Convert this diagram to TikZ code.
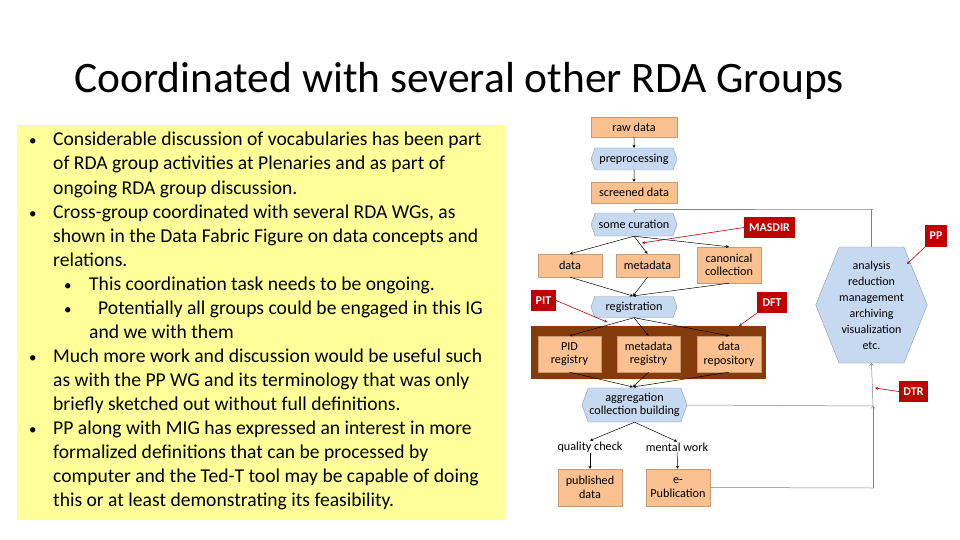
\documentclass[tikz,border=0pt]{standalone}
\usepackage{fontspec}
\setmainfont{Carlito}
\usetikzlibrary{shapes.symbols,arrows.meta}
\definecolor{orf}{HTML}{FAC090}
\definecolor{blf}{HTML}{C6D9F1}
\definecolor{brn}{HTML}{843C0C}
\definecolor{rd}{HTML}{C00000}
\definecolor{yl}{HTML}{FFFF99}
\begin{document}
\begin{tikzpicture}[x=1pt,y=-1pt,
  box/.style={fill=orf,draw=orf!80!black,line width=0.4pt,inner sep=0pt,font=\fontsize{12.2}{13.5}\selectfont,align=center},
  hex/.style={signal,signal to=east and west,signal pointer angle=140,fill=blf,draw=blf!70!black,line width=0.4pt,inner sep=0pt,font=\fontsize{12.2}{13.5}\selectfont,align=center},
  tag/.style={fill=rd,text=white,font=\bfseries\fontsize{12}{13}\selectfont,inner sep=0pt},
  ar/.style={-{Stealth[length=3pt,width=3pt]},line width=0.5pt},
  rar/.style={-{Stealth[length=3pt,width=3pt]},draw=rd,line width=0.6pt},
  gl/.style={draw=gray,line width=0.5pt},
  bt/.style={anchor=base west,font=\fontsize{19.6}{22}\selectfont,inner sep=0pt},
  bu/.style={anchor=base west,font=\fontsize{15}{18}\selectfont,inner sep=0pt}]
\useasboundingbox (0,0) rectangle (960,540);
\fill[white] (0,0) rectangle (960,540);
\node[font=\fontsize{43.5}{50}\selectfont,anchor=base,inner sep=0pt] (title) at (459,93) {Coordinated with several other RDA Groups};
\fill[yl] (17,125) rectangle (505,520);
\node[bu] (b1) at (29,146) {•};
\node[bt] (l1) at (53,146) {Considerable discussion of vocabularies has been part};
\node[bt] (l2) at (53,170) {of RDA group activities at Plenaries and as part of};
\node[bt] (l3) at (53,194) {ongoing RDA group discussion.};
\node[bu] (b2) at (29,218) {•};
\node[bt] (l4) at (53,218) {Cross-group coordinated with several RDA WGs, as};
\node[bt] (l5) at (53,242) {shown in the Data Fabric Figure on data concepts and};
\node[bt] (l6) at (53,266) {relations.};
\node[bu] (b3) at (64,290) {•};
\node[bt] (l7) at (89,290) {This coordination task needs to be ongoing.};
\node[bu] (b4) at (64,314) {•};
\node[bt] (l8) at (98,314) {Potentially all groups could be engaged in this IG};
\node[bt] (l9) at (89,338) {and we with them};
\node[bu] (b5) at (29,362) {•};
\node[bt] (l10) at (53,362) {Much more work and discussion would be useful such};
\node[bt] (l11) at (53,386) {as with the PP WG and its terminology that was only};
\node[bt] (l12) at (53,410) {briefly sketched out without full definitions.};
\node[bu] (b6) at (29,434) {•};
\node[bt] (l13) at (53,434) {PP along with MIG has expressed an interest in more};
\node[bt] (l14) at (53,458) {formalized definitions that can be processed by};
\node[bt] (l15) at (53,482) {computer and the Ted-T tool may be capable of doing};
\node[bt] (l16) at (53,506) {this or at least demonstrating its feasibility.};
% diagram
\fill[brn] (531,326) rectangle (766,379);
\node[box,minimum width=86,minimum height=20] (raw) at (634,127) {raw data};
\node[hex,minimum width=86,minimum height=22] (pre) at (634,159) {preprocessing};
\node[box,minimum width=86,minimum height=21] (scr) at (634,192.5) {screened data};
\node[hex,minimum width=86,minimum height=23] (cur) at (634,224.5) {some curation};
\node[box,minimum width=64,minimum height=23] (dat) at (570,265.5) {data};
\node[box,minimum width=63,minimum height=23] (met) at (647.5,265.5) {metadata};
\node[box,minimum width=64,minimum height=36] (can) at (729,265) {canonical\\collection};
\node[hex,minimum width=86,minimum height=21] (reg) at (634,307) {registration};
\node[box,minimum width=63,minimum height=36] (pid) at (569.5,354) {PID\\registry};
\node[box,minimum width=63,minimum height=36] (mreg) at (648.5,354) {metadata\\registry};
\node[box,minimum width=64,minimum height=36] (drep) at (729,354) {data\\repository};
\node[hex,minimum width=105,minimum height=34] (agg) at (634.5,405) {aggregation\\collection building};
\node[font=\fontsize{12.2}{13.5}\selectfont,inner sep=1pt] (qc) at (590,447) {quality check};
\node[font=\fontsize{12.2}{13.5}\selectfont,inner sep=1pt] (mw) at (677,447) {mental work};
\node[box,minimum width=64,minimum height=37] (pub) at (590,487.5) {published\\data};
\node[box,minimum width=64,minimum height=37] (epub) at (678,487.5) {e-\\Publication};
\node[hex,signal pointer angle=136,minimum width=105,minimum height=116,font=\fontsize{12}{16}\selectfont] (ana) at (871.5,305) {analysis\\reduction\\management\\archiving\\visualization\\etc.};
\node[tag,minimum width=51,minimum height=21] (masdir) at (769.5,227.5) {MASDIR};
\node[tag,minimum width=22,minimum height=22] (pp) at (936,236) {PP};
\node[tag,minimum width=25,minimum height=21] (pit) at (543.5,300.5) {PIT};
\node[tag,minimum width=30,minimum height=21] (dft) at (772,302.5) {DFT};
\node[tag,minimum width=29,minimum height=21] (dtr) at (913.5,391.5) {DTR};
\coordinate (c1) at (873,209);
\coordinate (c2) at (635,209);
\coordinate (c3) at (873,406);
\coordinate (c4) at (873,488);
\coordinate (jr) at (633,296);
\coordinate (ja) at (633,387);
\coordinate (qa) at (875,388);
\coordinate (ma) at (642,243);
\coordinate (pa) at (607,322);
\coordinate (da) at (739,326);
\coordinate (ppa) at (907,264);
% connectors
\draw[ar] (raw) -- (pre);
\draw[ar] (pre) -- (scr);
\draw[gl] (ana.north) |- (c1) -- (c2);
\draw[ar,gray] (c2) -- (cur.north);
\draw[ar] (cur.south) -- (dat.north);
\draw[ar] (cur.south) -- (met.north);
\draw[ar] (cur.south) -- (can.north);
\draw[ar] (dat.south) -- (jr);
\draw[ar] (met.south) -- (jr);
\draw[ar] (can.south) -- (jr);
\draw[ar] (reg.south) -- (pid.north);
\draw[ar] (reg.south) -- (mreg.north);
\draw[ar] (reg.south) -- (drep.north);
\draw[ar] (pid.south) -- (ja);
\draw[ar] (mreg.south) -- (ja);
\draw[ar] (drep.south) -- (ja);
\draw[ar] (agg.south) -- (qc.north);
\draw[ar] (agg.south) -- (mw.north);
\draw[ar] (qc) -- (pub);
\draw[ar] (mw) -- (epub);
\draw[gl] (agg.east) -- (c3);
\draw[gl] (epub.east) -- (c4);
\draw[gl,-{Straight Barb[length=2pt]}] (c4) -- (c3);
\draw[gl,-{Straight Barb[length=2pt]}] (c3) -- (ana.south);
\draw[rar] (masdir.west) -- (ma);
\draw[rar] (pit.east) -- (pa);
\draw[rar] (dft.south west) -- (da);
\draw[rar] (pp.south west) -- (ppa);
\draw[rar] (dtr.west) -- (qa);
\end{tikzpicture}
\end{document}
